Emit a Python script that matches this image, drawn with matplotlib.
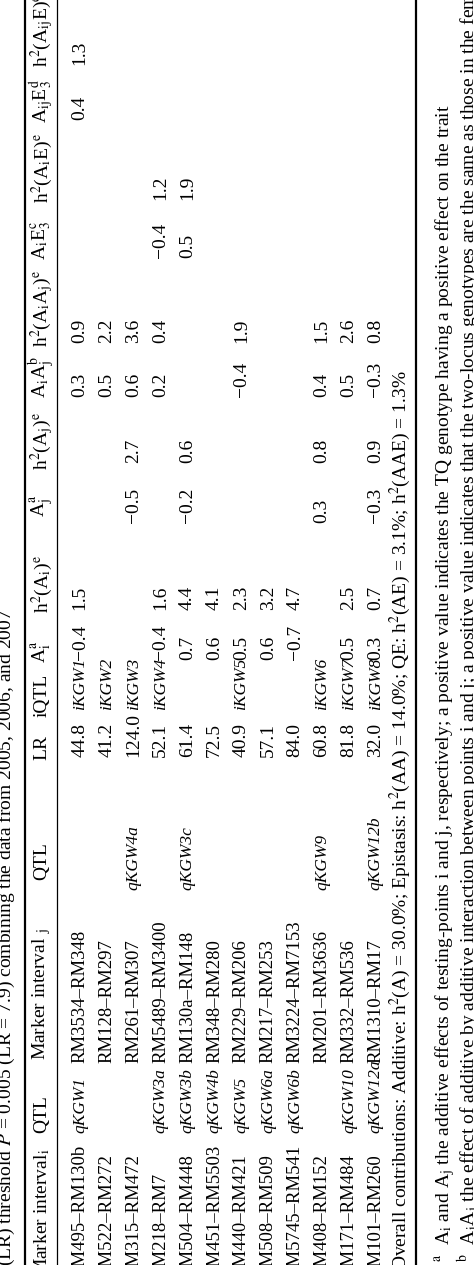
import matplotlib
matplotlib.use("Agg")
import matplotlib.pyplot as plt
from matplotlib.lines import Line2D

plt.rcParams['font.family'] = ['Liberation Serif', 'DejaVu Serif']
plt.rcParams['mathtext.fontset'] = 'stix'

W, H = 474, 1265
fig = plt.figure(figsize=(W/100, H/100), dpi=100)
fig.patch.set_facecolor('white')

headers = [r'Marker interval$_{\rm i}$', 'QTL', r'Marker interval $_{\rm j}$', 'QTL', 'LR', 'iQTL',
           r'A$_{\rm i}^{\rm a}$', r'h$^2$(A$_{\rm i}$)$^{\rm e}$', r'A$_{\rm j}^{\rm a}$',
           r'h$^2$(A$_{\rm j}$)$^{\rm e}$', r'A$_{\rm i}$A$_{\rm j}^{\rm b}$',
           r'h$^2$(A$_{\rm i}$A$_{\rm j}$)$^{\rm e}$', r'A$_{\rm i}$E$_3^{\rm c}$',
           r'h$^2$(A$_{\rm i}$E)$^{\rm e}$', r'A$_{\rm ij}$E$_3^{\rm d}$', r'h$^2$(A$_{\rm ij}$E)$^{\rm e}$']

marker_i = ['RM495–RM130b', 'RM522–RM272', 'RM315–RM472', 'RM218–RM7', 'RM504–RM448', 'RM451–RM5503',
            'RM440–RM421', 'RM508–RM509', 'RM5745–RM541', 'RM408–RM152', 'RM171–RM484', 'RM101–RM260']
qtl_i = ['qKGW1', '', '', 'qKGW3a', 'qKGW3b', 'qKGW4b', 'qKGW5', 'qKGW6a', 'qKGW6b', '', 'qKGW10', 'qKGW12a']
marker_j = ['RM3534–RM348', 'RM128–RM297', 'RM261–RM307', 'RM5489–RM3400', 'RM130a–RM148', 'RM348–RM280',
            'RM229–RM206', 'RM217–RM253', 'RM3224–RM7153', 'RM201–RM3636', 'RM332–RM536', 'RM1310–RM17']
qtl_j = ['', '', 'qKGW4a', '', 'qKGW3c', '', '', '', '', 'qKGW9', '', 'qKGW12b']
lr = ['44.8', '41.2', '124.0', '52.1', '61.4', '72.5', '40.9', '57.1', '84.0', '60.8', '81.8', '32.0']
iqtl = ['iKGW1', 'iKGW2', 'iKGW3', 'iKGW4', '', '', 'iKGW5', '', '', 'iKGW6', 'iKGW7', 'iKGW8']
a_i = ['−0.4', '', '', '−0.4', '0.7', '0.6', '0.5', '0.6', '−0.7', '', '0.5', '0.3']
h_ai = ['1.5', '', '', '1.6', '4.4', '4.1', '2.3', '3.2', '4.7', '', '2.5', '0.7']
a_j = ['', '', '−0.5', '', '−0.2', '', '', '', '', '0.3', '', '−0.3']
h_aj = ['', '', '2.7', '', '0.6', '', '', '', '', '0.8', '', '0.9']
aa = ['0.3', '0.5', '0.6', '0.2', '', '', '−0.4', '', '', '0.4', '0.5', '−0.3']
h_aa = ['0.9', '2.2', '3.6', '0.4', '', '', '1.9', '', '', '1.5', '2.6', '0.8']
ae = ['', '', '', '−0.4', '0.5', '', '', '', '', '', '', '']
h_ae = ['', '', '', '1.2', '1.9', '', '', '', '', '', '', '']
aae = ['0.4', '', '', '', '', '', '', '', '', '', '', '']
h_aae = ['1.3', '', '', '', '', '', '', '', '', '', '', '']

columns = [marker_i, qtl_i, marker_j, qtl_j, lr, iqtl, a_i, h_ai, a_j, h_aj, aa, h_aa, ae, h_ae, aae, h_aae]
italic_cols = {1, 3, 5}

col_start = [1278, 1133, 1063, 890, 757, 710, 660, 610, 523, 463, 397, 343, 258, 200, 120, 65]
head_start = [1276, 1133, 1060, 880, 760, 717, 663, 613, 517, 470, 398, 347, 260, 203, 123, 67]
row_x0, row_dx = 80, 26.9
FS = 14

def fx(x): return x / W
def fy(y): return 1 - y / H

def vtext(x, y, s, fs=FS, **kw):
    fig.text(fx(x), fy(y), s, rotation=90, rotation_mode='anchor', ha='left', va='center',
             fontsize=fs, **kw)

vtext(6, 1266, r'(LR) threshold $P$ = 0.005 (LR = 7.9) combining the data from 2005, 2006, and 2007')

fig.add_artist(Line2D([fx(25)] * 2, [0, 1], color='black', lw=1.6))
fig.add_artist(Line2D([fx(57)] * 2, [0, 1], color='black', lw=0.9))
fig.add_artist(Line2D([fx(416)] * 2, [0, 1], color='black', lw=1.6))

for h, y in zip(headers, head_start):
    vtext(42, y, h)

for c, (col, y) in enumerate(zip(columns, col_start)):
    for r, v in enumerate(col):
        if v:
            if c in italic_cols:
                vtext(row_x0 + r * row_dx, y, v, fs=12.5, style='italic')
            else:
                vtext(row_x0 + r * row_dx, y, v, fs=13.5 if c in (0, 2) else FS)

vtext(400, 1270, r'Overall contributions: Additive: h$^2$(A) = 30.0%; Epistasis: h$^2$(AA) = 14.0%; '
                 r'QE: h$^2$(AE) = 3.1%; h$^2$(AAE) = 1.3%')
vtext(446, 1262, r'$^{\rm a}$  A$_{\rm i}$ and A$_{\rm j}$ the additive effects of testing-points i and j, '
                 r'respectively; a positive value indicates the TQ genotype having a positive effect on the trait')
vtext(470, 1262, r'$^{\rm b}$  A$_{\rm i}$A$_{\rm j}$ the effect of additive by additive interaction between points i '
                 r'and j; a positive value indicates that the two-locus genotypes are the same as those in the female or the male parent')

fig.savefig('out.png', dpi=100, facecolor='white')
